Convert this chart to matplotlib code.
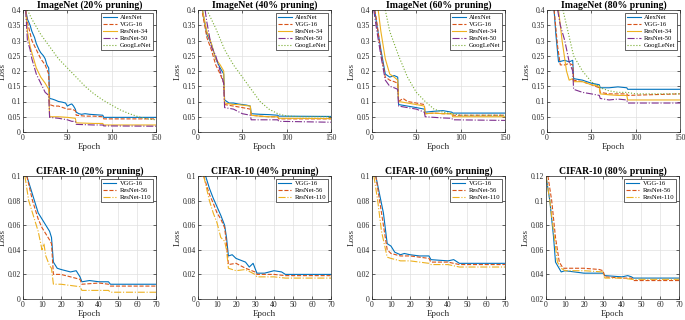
import matplotlib
matplotlib.use("Agg")
import matplotlib.pyplot as plt

plt.rcParams['font.family'] = ['Liberation Serif', 'DejaVu Serif']

# ---------------- ImageNet data ----------------
imagenet_models = ["AlexNet", "VGG-16", "ResNet-34", "ResNet-50", "GoogLeNet"]

# 20% pruning
in20_alex_x = [3, 5, 8, 10, 13, 15, 18, 20, 23, 25, 27, 29, 30, 33, 36, 40, 44, 48, 50, 53, 55, 57, 59, 60, 63, 66, 70, 75, 80, 85, 90, 91, 150]
in20_alex_y = [0.40, 0.37, 0.35, 0.33, 0.31, 0.29, 0.27, 0.26, 0.25, 0.24, 0.22, 0.21, 0.11, 0.108, 0.105, 0.10, 0.098, 0.095, 0.085, 0.09, 0.092, 0.085, 0.075, 0.065, 0.06, 0.058, 0.06, 0.058, 0.057, 0.056, 0.055, 0.048, 0.048]
in20_vgg_x = [3, 5, 10, 15, 20, 25, 29, 30, 35, 40, 45, 50, 55, 59, 60, 70, 80, 90, 91, 150]
in20_vgg_y = [0.40, 0.36, 0.30, 0.27, 0.24, 0.22, 0.19, 0.09, 0.085, 0.085, 0.08, 0.075, 0.075, 0.07, 0.055, 0.052, 0.052, 0.05, 0.043, 0.043]
in20_r34_x = [3, 5, 8, 10, 15, 20, 25, 29, 30, 40, 50, 59, 60, 70, 80, 90, 91, 150]
in20_r34_y = [0.40, 0.33, 0.28, 0.26, 0.21, 0.18, 0.16, 0.14, 0.05, 0.05, 0.048, 0.045, 0.03, 0.029, 0.028, 0.028, 0.023, 0.023]
in20_r50_x = [3, 5, 8, 10, 15, 20, 25, 29, 30, 40, 50, 55, 59, 60, 70, 80, 90, 91, 150]
in20_r50_y = [0.40, 0.30, 0.27, 0.24, 0.19, 0.16, 0.13, 0.12, 0.048, 0.045, 0.04, 0.035, 0.035, 0.025, 0.024, 0.023, 0.023, 0.02, 0.019]
in20_goog_x = [5, 10, 20, 30, 40, 50, 60, 70, 80, 90, 100, 110, 120, 130, 140, 150]
in20_goog_y = [0.40, 0.37, 0.32, 0.28, 0.24, 0.21, 0.18, 0.15, 0.125, 0.105, 0.088, 0.072, 0.06, 0.05, 0.043, 0.04]

# 40% pruning
in40_alex_x = [5, 10, 15, 20, 25, 29, 30, 35, 40, 45, 50, 55, 59, 60, 70, 80, 90, 91, 150]
in40_alex_y = [0.40, 0.32, 0.29, 0.24, 0.21, 0.19, 0.105, 0.095, 0.095, 0.092, 0.09, 0.088, 0.085, 0.06, 0.058, 0.057, 0.055, 0.052, 0.051]
in40_vgg_x = [5, 10, 15, 20, 25, 29, 30, 40, 50, 59, 60, 70, 80, 90, 91, 150]
in40_vgg_y = [0.39, 0.31, 0.27, 0.22, 0.19, 0.16, 0.09, 0.085, 0.08, 0.075, 0.055, 0.052, 0.05, 0.05, 0.043, 0.043]
in40_r34_x = [5, 10, 15, 20, 25, 29, 30, 40, 45, 50, 59, 60, 70, 80, 90, 91, 150]
in40_r34_y = [0.40, 0.33, 0.29, 0.24, 0.22, 0.20, 0.095, 0.09, 0.09, 0.088, 0.085, 0.055, 0.052, 0.05, 0.05, 0.045, 0.044]
in40_r50_x = [8, 10, 15, 20, 25, 29, 30, 40, 50, 59, 60, 70, 80, 90, 91, 150]
in40_r50_y = [0.40, 0.36, 0.28, 0.25, 0.20, 0.16, 0.08, 0.075, 0.06, 0.055, 0.04, 0.04, 0.04, 0.04, 0.035, 0.032]
in40_goog_x = [10, 20, 30, 40, 50, 60, 70, 80, 90, 100, 120, 150]
in40_goog_y = [0.40, 0.34, 0.27, 0.22, 0.18, 0.14, 0.10, 0.075, 0.06, 0.052, 0.05, 0.05]

# 60% pruning
in60_alex_x = [3, 5, 10, 15, 20, 25, 29, 30, 40, 50, 59, 60, 70, 80, 90, 91, 150]
in60_alex_y = [0.40, 0.36, 0.27, 0.19, 0.18, 0.185, 0.18, 0.09, 0.085, 0.08, 0.075, 0.065, 0.068, 0.07, 0.065, 0.062, 0.062]
in60_vgg_x = [3, 5, 10, 15, 20, 25, 29, 30, 35, 40, 50, 59, 60, 70, 80, 90, 91, 150]
in60_vgg_y = [0.40, 0.37, 0.26, 0.18, 0.17, 0.165, 0.16, 0.10, 0.11, 0.10, 0.095, 0.09, 0.06, 0.062, 0.06, 0.06, 0.055, 0.055]
in60_r34_x = [7, 10, 15, 20, 25, 29, 30, 40, 50, 59, 60, 70, 80, 90, 91, 150]
in60_r34_y = [0.40, 0.33, 0.24, 0.19, 0.18, 0.17, 0.10, 0.095, 0.09, 0.085, 0.06, 0.062, 0.06, 0.06, 0.05, 0.05]
in60_r50_x = [2, 5, 10, 15, 20, 25, 29, 30, 40, 50, 59, 60, 70, 80, 90, 91, 150]
in60_r50_y = [0.40, 0.34, 0.25, 0.17, 0.15, 0.145, 0.14, 0.085, 0.08, 0.075, 0.065, 0.05, 0.048, 0.046, 0.045, 0.04, 0.038]
in60_goog_x = [15, 20, 30, 40, 50, 60, 70, 80, 90, 100, 120, 150]
in60_goog_y = [0.40, 0.33, 0.25, 0.18, 0.13, 0.10, 0.075, 0.065, 0.06, 0.055, 0.055, 0.055]

# 80% pruning
in80_alex_x = [8, 10, 13, 20, 25, 29, 30, 40, 50, 59, 60, 70, 80, 90, 91, 150]
in80_alex_y = [0.40, 0.32, 0.23, 0.235, 0.23, 0.235, 0.175, 0.17, 0.16, 0.155, 0.145, 0.145, 0.148, 0.145, 0.14, 0.14]
in80_vgg_x = [8, 12, 15, 20, 25, 29, 30, 40, 50, 59, 60, 70, 80, 90, 91, 150]
in80_vgg_y = [0.40, 0.28, 0.22, 0.22, 0.225, 0.22, 0.17, 0.165, 0.155, 0.145, 0.13, 0.125, 0.125, 0.125, 0.12, 0.125]
in80_r34_x = [13, 17, 22, 25, 29, 30, 40, 50, 59, 60, 70, 80, 90, 91, 150]
in80_r34_y = [0.40, 0.30, 0.20, 0.17, 0.175, 0.165, 0.165, 0.155, 0.15, 0.125, 0.122, 0.12, 0.12, 0.105, 0.105]
in80_r50_x = [12, 15, 20, 25, 29, 30, 40, 50, 59, 60, 70, 80, 90, 91, 150]
in80_r50_y = [0.40, 0.35, 0.30, 0.23, 0.20, 0.14, 0.13, 0.125, 0.12, 0.11, 0.105, 0.108, 0.105, 0.095, 0.095]
in80_goog_x = [18, 22, 30, 40, 50, 60, 70, 80, 90, 100, 120, 150]
in80_goog_y = [0.40, 0.35, 0.25, 0.20, 0.165, 0.145, 0.135, 0.13, 0.13, 0.125, 0.125, 0.125]

# ---------------- CIFAR-10 data ----------------
cifar_models = ["VGG-16", "ResNet-56", "ResNet-110"]

c20_vgg_x = [2, 5, 8, 10, 12, 14, 15, 16, 18, 20, 25, 28, 30, 31, 35, 40, 45, 46, 70]
c20_vgg_y = [0.10, 0.085, 0.07, 0.065, 0.06, 0.055, 0.05, 0.03, 0.025, 0.024, 0.022, 0.023, 0.018, 0.014, 0.015, 0.014, 0.014, 0.012, 0.012]
c20_r56_x = [2, 5, 8, 10, 12, 14, 15, 16, 20, 25, 30, 31, 40, 45, 46, 70]
c20_r56_y = [0.10, 0.08, 0.065, 0.058, 0.053, 0.048, 0.045, 0.02, 0.02, 0.018, 0.016, 0.012, 0.013, 0.012, 0.0105, 0.0105]
c20_r110_x = [1, 3, 5, 8, 10, 11, 12, 14, 15, 16, 20, 25, 30, 31, 40, 45, 46, 70]
c20_r110_y = [0.10, 0.08, 0.07, 0.055, 0.04, 0.045, 0.035, 0.027, 0.025, 0.012, 0.012, 0.011, 0.01, 0.007, 0.007, 0.007, 0.0055, 0.0055]

c40_vgg_x = [4, 6, 8, 10, 12, 14, 15, 16, 18, 20, 25, 27, 29, 31, 35, 40, 44, 46, 70]
c40_vgg_y = [0.10, 0.09, 0.082, 0.075, 0.068, 0.06, 0.05, 0.035, 0.036, 0.033, 0.03, 0.026, 0.029, 0.021, 0.021, 0.023, 0.022, 0.02, 0.02]
c40_r56_x = [3, 6, 8, 10, 12, 14, 15, 16, 20, 25, 30, 31, 40, 46, 70]
c40_r56_y = [0.10, 0.085, 0.078, 0.07, 0.065, 0.058, 0.045, 0.028, 0.029, 0.025, 0.022, 0.02, 0.02, 0.019, 0.019]
c40_r110_x = [3, 6, 8, 10, 12, 14, 15, 16, 20, 25, 30, 31, 40, 46, 70]
c40_r110_y = [0.10, 0.08, 0.07, 0.062, 0.05, 0.047, 0.04, 0.025, 0.023, 0.024, 0.02, 0.018, 0.018, 0.017, 0.017]

c60_vgg_x = [2, 4, 6, 8, 10, 12, 15, 17, 20, 25, 30, 31, 40, 43, 46, 70]
c60_vgg_y = [0.10, 0.085, 0.07, 0.045, 0.043, 0.038, 0.036, 0.037, 0.036, 0.035, 0.035, 0.032, 0.031, 0.032, 0.029, 0.029]
c60_r56_x = [2, 4, 6, 8, 10, 15, 20, 25, 30, 31, 40, 46, 70]
c60_r56_y = [0.10, 0.08, 0.06, 0.04, 0.037, 0.035, 0.035, 0.034, 0.033, 0.03, 0.03, 0.028, 0.028]
c60_r110_x = [1, 3, 5, 8, 10, 15, 20, 30, 31, 40, 46, 70]
c60_r110_y = [0.10, 0.08, 0.055, 0.034, 0.033, 0.031, 0.031, 0.029, 0.028, 0.028, 0.026, 0.026]

c80_vgg_x = [0, 2, 4, 5, 8, 10, 15, 20, 30, 31, 40, 43, 45, 46, 70]
c80_vgg_y = [0.12, 0.10, 0.07, 0.05, 0.042, 0.043, 0.042, 0.041, 0.041, 0.039, 0.038, 0.039, 0.038, 0.037, 0.037]
c80_r56_x = [1, 3, 5, 7, 9, 12, 20, 28, 30, 31, 40, 45, 46, 70]
c80_r56_y = [0.12, 0.10, 0.07, 0.05, 0.045, 0.045, 0.045, 0.044, 0.043, 0.038, 0.037, 0.037, 0.035, 0.035]
c80_r110_x = [0, 2, 4, 6, 8, 10, 20, 30, 31, 40, 45, 46, 70]
c80_r110_y = [0.12, 0.10, 0.075, 0.05, 0.045, 0.043, 0.043, 0.042, 0.037, 0.037, 0.036, 0.036, 0.036]

imagenet_panels = [
    ("ImageNet (20% pruning)", [(in20_alex_x, in20_alex_y), (in20_vgg_x, in20_vgg_y), (in20_r34_x, in20_r34_y), (in20_r50_x, in20_r50_y), (in20_goog_x, in20_goog_y)]),
    ("ImageNet (40% pruning)", [(in40_alex_x, in40_alex_y), (in40_vgg_x, in40_vgg_y), (in40_r34_x, in40_r34_y), (in40_r50_x, in40_r50_y), (in40_goog_x, in40_goog_y)]),
    ("ImageNet (60% pruning)", [(in60_alex_x, in60_alex_y), (in60_vgg_x, in60_vgg_y), (in60_r34_x, in60_r34_y), (in60_r50_x, in60_r50_y), (in60_goog_x, in60_goog_y)]),
    ("ImageNet (80% pruning)", [(in80_alex_x, in80_alex_y), (in80_vgg_x, in80_vgg_y), (in80_r34_x, in80_r34_y), (in80_r50_x, in80_r50_y), (in80_goog_x, in80_goog_y)]),
]
cifar_panels = [
    ("CIFAR-10 (20% pruning)", [(c20_vgg_x, c20_vgg_y), (c20_r56_x, c20_r56_y), (c20_r110_x, c20_r110_y)], (0, 0.1)),
    ("CIFAR-10 (40% pruning)", [(c40_vgg_x, c40_vgg_y), (c40_r56_x, c40_r56_y), (c40_r110_x, c40_r110_y)], (0, 0.1)),
    ("CIFAR-10 (60% pruning)", [(c60_vgg_x, c60_vgg_y), (c60_r56_x, c60_r56_y), (c60_r110_x, c60_r110_y)], (0, 0.1)),
    ("CIFAR-10 (80% pruning)", [(c80_vgg_x, c80_vgg_y), (c80_r56_x, c80_r56_y), (c80_r110_x, c80_r110_y)], (0.02, 0.12)),
]

colors5 = ["#0072BD", "#D95319", "#EDB120", "#7E2F8E", "#77AC30"]
styles5 = ["-", "--", "-", "-.", ":"]
colors3 = ["#0072BD", "#D95319", "#EDB120"]
styles3 = ["-", "--", "-."]

fig = plt.figure(figsize=(6.85, 3.2), dpi=100)
W, H = 685.0, 320.0
top_lefts = [23, 198, 372, 547]
bot_lefts = [23, 198, 372, 546]
aw = 133

def style_ax(ax):
    ax.tick_params(direction="in", length=2, width=0.5, labelsize=5.5, pad=1.5, top=True, right=True,
                   colors="#262626")
    ax.grid(True, color="#e0e0e0", linewidth=0.5)
    ax.set_axisbelow(True)
    for s in ax.spines.values():
        s.set_linewidth(0.5)
        s.set_color("#262626")
    ax.set_xlabel("Epoch", fontsize=6.5, labelpad=0.5, color="#262626")
    ax.set_ylabel("Loss", fontsize=6.5, labelpad=0.5, color="#262626")

def add_legend(ax):
    leg = ax.legend(loc="upper right", fontsize=4.8, frameon=True, fancybox=False, edgecolor="#262626",
                    handlelength=2.0, borderpad=0.3, labelspacing=0.2, handletextpad=0.5,
                    borderaxespad=0.4, framealpha=1)
    leg.get_frame().set_linewidth(0.5)

for i, (title, series) in enumerate(imagenet_panels):
    ax = fig.add_axes([top_lefts[i] / W, 1 - 132 / H, aw / W, 122 / H])
    for j, (xs, ys) in enumerate(series):
        ax.plot(xs, ys, color=colors5[j], linestyle=styles5[j], linewidth=0.8, label=imagenet_models[j])
    ax.set_xlim(0, 150)
    ax.set_ylim(0, 0.4)
    ax.set_xticks([0, 50, 100, 150])
    ax.set_yticks([0, 0.05, 0.1, 0.15, 0.2, 0.25, 0.3, 0.35, 0.4])
    ax.set_yticklabels(["0", "0.05", "0.1", "0.15", "0.2", "0.25", "0.3", "0.35", "0.4"])
    style_ax(ax)
    ax.set_title(title, fontsize=7, fontweight="bold", pad=1.5)
    add_legend(ax)

for i, (title, series, ylim) in enumerate(cifar_panels):
    ax = fig.add_axes([bot_lefts[i] / W, 1 - 299 / H, aw / W, 123 / H])
    for j, (xs, ys) in enumerate(series):
        ax.plot(xs, ys, color=colors3[j], linestyle=styles3[j], linewidth=0.8, label=cifar_models[j])
    ax.set_xlim(0, 70)
    ax.set_ylim(*ylim)
    ax.set_xticks(list(range(0, 71, 10)))
    if ylim[0] == 0:
        ax.set_yticks([0, 0.02, 0.04, 0.06, 0.08, 0.1])
        ax.set_yticklabels(["0", "0.02", "0.04", "0.06", "0.08", "0.1"])
    else:
        ax.set_yticks([0.02, 0.04, 0.06, 0.08, 0.1, 0.12])
        ax.set_yticklabels(["0.02", "0.04", "0.06", "0.08", "0.1", "0.12"])
    style_ax(ax)
    ax.set_title(title, fontsize=7, fontweight="bold", pad=1.5)
    add_legend(ax)

fig.savefig("out.png", dpi=100)
